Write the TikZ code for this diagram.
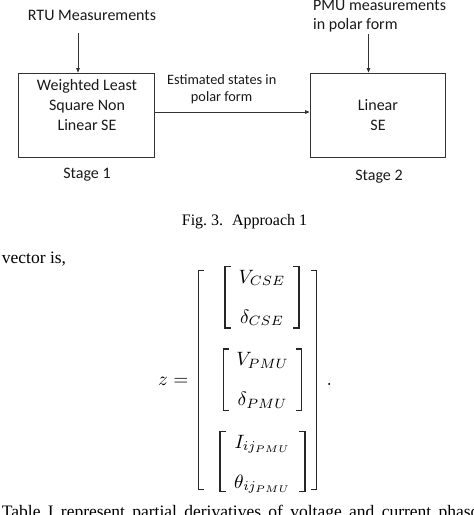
\documentclass[tikz,border=0pt]{standalone}
\usepackage{fontspec}
\setmainfont{Liberation Serif}
\newfontfamily\carlfont{Carlito}
\usepackage{graphicx}
\usetikzlibrary{arrows.meta}
\newcommand{\mbig}[1]{\scalebox{1.93}{$#1$}}
\begin{document}
\begin{tikzpicture}[x=1pt,y=-1pt,
  lbl/.style={inner sep=0pt, anchor=base, text=black!90, font=\carlfont\fontsize{16}{19.5}\selectfont},
  lbls/.style={inner sep=0pt, anchor=base, text=black!90, font=\carlfont\fontsize{14.3}{17}\selectfont},
  blk/.style={draw=black!80, line width=0.9pt, inner sep=0pt},
  arr/.style={draw=black!80, line width=0.7pt, -{Triangle[length=4.5pt,width=3.6pt]}},
  txt/.style={inner sep=0pt, anchor=base west, font=\fontsize{17.5}{20}\selectfont},
  mth/.style={inner sep=0pt, anchor=base},
  brk/.style={draw=black!85, line width=1.1pt}]
\useasboundingbox (0,0) rectangle (474,515);
\clip (0,0) rectangle (474,515);
\fill[white] (0,0) rectangle (474,515);
% ---------------- diagram ----------------
\node[blk, minimum width=136pt, minimum height=84pt] (s1) at (86,115) {};
\node[blk, minimum width=135pt, minimum height=84pt] (s2) at (377.5,115) {};
\node[lbl] (rtu) at (92,20) {RTU Measurements};
\node[lbl, anchor=base west] (pmu1) at (313,10) {PMU measurements};
\node[lbl, anchor=base west] (pmu2) at (313,29.5) {in polar form};
\node[lbl] (w1) at (87,90.5) {Weighted Least};
\node[lbl] (w2) at (87,110) {Square Non};
\node[lbl] (w3) at (87,130) {Linear SE};
\node[lbl] (l1) at (378,110) {Linear};
\node[lbl] (l2) at (378,130) {SE};
\node[lbl] (st1) at (87,178.5) {Stage 1};
\node[lbl] (st2) at (379,180) {Stage 2};
\node[lbls] (e1) at (221.7,84.5) {Estimated states in};
\node[lbls] (e2) at (221.7,101.5) {polar form};
\coordinate (c1) at (78,33);
\coordinate (c2) at (368.5,34);
\coordinate (h1) at (154,112);
\draw[arr] (c1) -- (c1 |- s1.north);
\draw[arr] (c2) -- (c2 |- s2.north);
\draw[arr] (h1) -- (h1 -| s2.west);
% ---------------- caption and text ----------------
\node[inner sep=0pt, anchor=base, font=\fontsize{16}{19}\selectfont] (cap) at (244.5,225) {Fig.~3.\hspace{0.55em}Approach~1};
\node[txt] (vec) at (1.7,263) {vector is,};
% ---------------- equation ----------------
\node[mth, anchor=base west] (z) at (158,385) {\mbig{z=}};
\node[mth] (v1) at (262,283) {\mbig{V_{CSE}}};
\node[mth] (d1) at (262,323) {\mbig{\delta_{CSE}}};
\node[mth] (v2) at (262.5,365.3) {\mbig{V_{PMU}}};
\node[mth] (d2) at (262.5,405.3) {\mbig{\delta_{PMU}}};
\node[mth] (i3) at (262.5,448) {\mbig{I_{ij_{PMU}}}};
\node[mth] (t3) at (262.5,488) {\mbig{\theta_{ij_{PMU}}}};
\node[mth] (dot) at (329.3,385) {\mbig{.}};
% outer bracket
\draw[brk] (203.5,270.7) -- (198.3,270.7) -- (198.3,489.5) -- (203.5,489.5);
\draw[brk] (311.2,270.7) -- (316.4,270.7) -- (316.4,489.5) -- (311.2,489.5);
% inner brackets
\draw[brk] (230.7,266.7) -- (225,266.7) -- (225,328) -- (230.7,328);
\draw[brk] (293.3,266.7) -- (299,266.7) -- (299,328) -- (293.3,328);
\draw[brk] (229,349) -- (223.3,349) -- (223.3,410.7) -- (229,410.7);
\draw[brk] (296,349) -- (301.7,349) -- (301.7,410.7) -- (296,410.7);
\draw[brk] (225.7,431.7) -- (220,431.7) -- (220,491.7) -- (225.7,491.7);
\draw[brk] (299.3,431.7) -- (305,431.7) -- (305,491.7) -- (299.3,491.7);
% ---------------- following text ----------------
\node[txt] (tbl) at (1.7,517) {\spaceskip=7.3pt plus 1pt Table I represent partial derivatives of voltage and current phasors};
\end{tikzpicture}
\end{document}
